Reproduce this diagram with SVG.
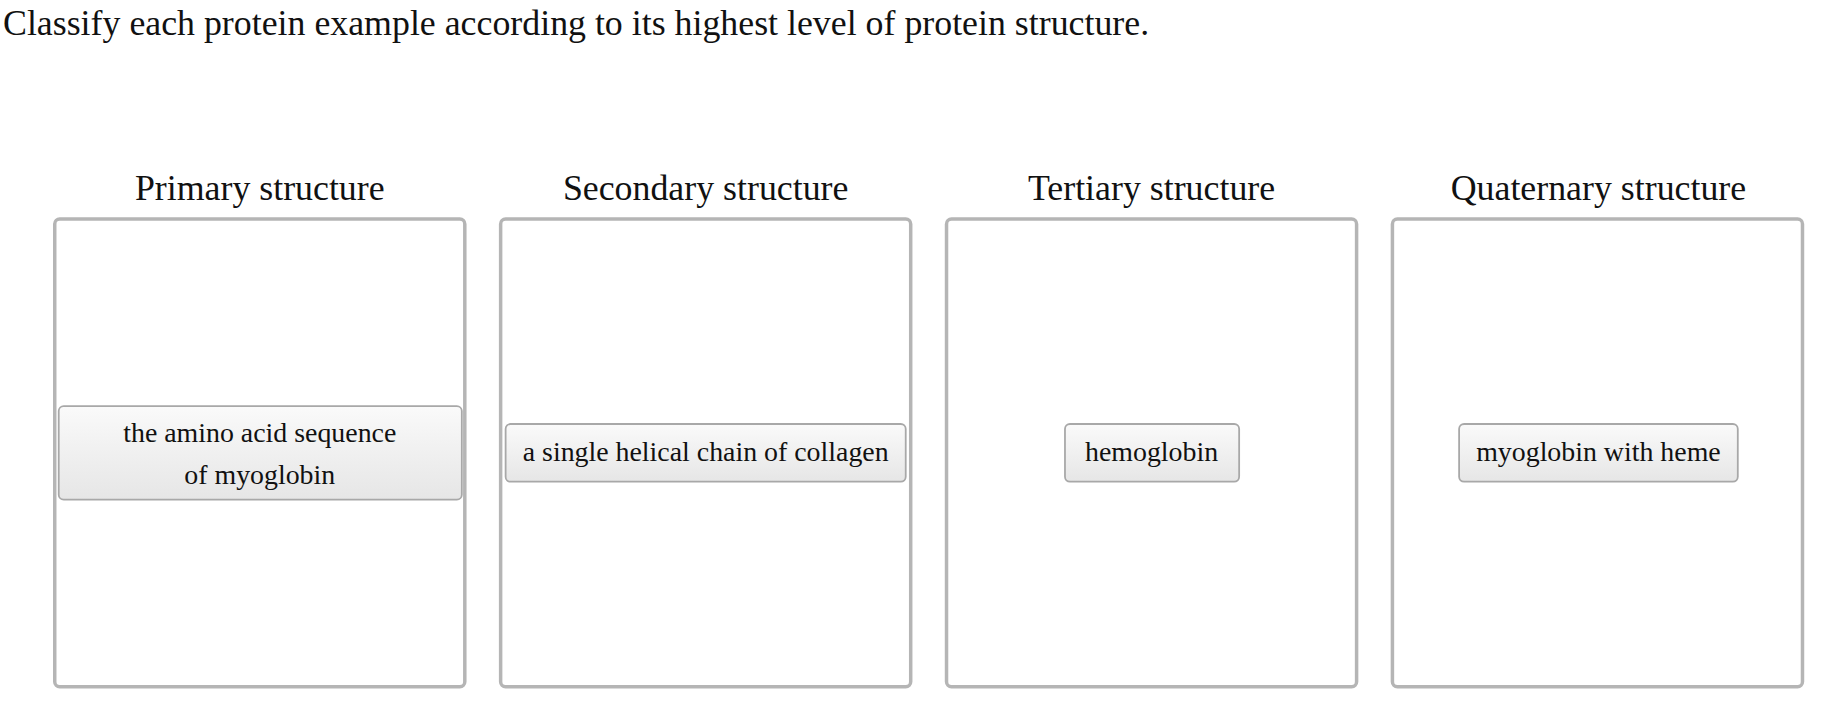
<svg xmlns="http://www.w3.org/2000/svg" width="1834" height="712" viewBox="0 0 1834 712">
<style>
text{font-family:"Liberation Serif","Times New Roman",serif;fill:#111}
.h{font-size:36px;text-anchor:middle}
.c{font-size:28px;text-anchor:middle}
.bin{fill:#fff;stroke:#b5b5b5;stroke-width:3.5}
.card{fill:url(#g);stroke:#a8a8a8;stroke-width:1.8}
</style>
<defs><linearGradient id="g" x1="0" y1="0" x2="0" y2="1"><stop offset="0" stop-color="#fafafa"/><stop offset="1" stop-color="#e6e6e6"/></linearGradient></defs>
<rect width="1834" height="712" fill="#fff"/>
<g transform="scale(0.9953)">
<text x="3" y="35" style="font-size:36px">Classify each protein example according to its highest level of protein structure.</text>
<g id="primary"><text class="h" x="261" y="201">Primary structure</text><rect class="bin" x="55" y="220" width="412" height="470" rx="5"/></g>
<g id="secondary"><text class="h" x="709" y="201">Secondary structure</text><rect class="bin" x="503" y="220" width="412" height="470" rx="5"/></g>
<g id="tertiary"><text class="h" x="1157" y="201">Tertiary structure</text><rect class="bin" x="951" y="220" width="412" height="470" rx="5"/></g>
<g id="quaternary"><text class="h" x="1606" y="201">Quaternary structure</text><rect class="bin" x="1399" y="220" width="412" height="470" rx="5"/></g>
<g id="card1"><rect class="card" x="59" y="408" width="405" height="94" rx="5"/><text class="c" x="261" y="444">the amino acid sequence</text><text class="c" x="261" y="486">of myoglobin</text></g>
<g id="card2"><rect class="card" x="508" y="426" width="402" height="58" rx="5"/><text class="c" x="709" y="463">a single helical chain of collagen</text></g>
<g id="card3"><rect class="card" x="1070" y="426" width="175" height="58" rx="5"/><text class="c" x="1157" y="463">hemoglobin</text></g>
<g id="card4"><rect class="card" x="1466" y="426" width="280" height="58" rx="5"/><text class="c" x="1606" y="463">myoglobin with heme</text></g>
</g>
<g id="connectors"/>
</svg>
